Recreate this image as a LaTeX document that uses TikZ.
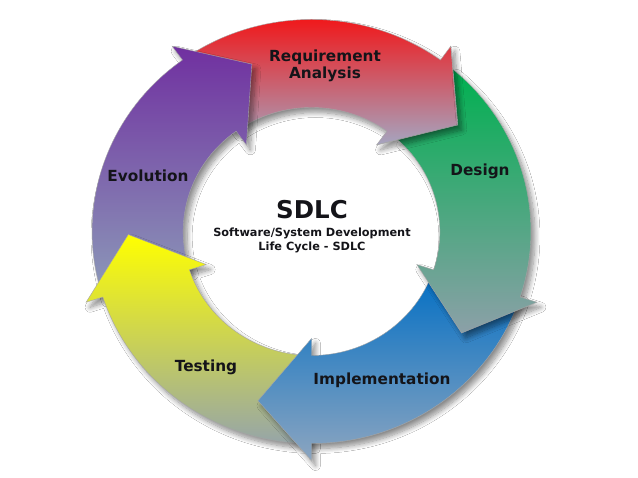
\documentclass[tikz,border=0pt]{standalone}
\usepackage{fontspec}
\setmainfont{DejaVu Sans}
\usetikzlibrary{shadows.blur}
\definecolor{redA}{RGB}{248,10,10}
\definecolor{redB}{RGB}{165,165,192}
\definecolor{greenA}{RGB}{0,176,80}
\definecolor{greenB}{RGB}{140,160,168}
\definecolor{blueA}{RGB}{0,110,196}
\definecolor{blueB}{RGB}{140,165,192}
\definecolor{yellowA}{RGB}{255,255,0}
\definecolor{yellowB}{RGB}{150,165,168}
\definecolor{purpleA}{RGB}{112,48,160}
\definecolor{purpleB}{RGB}{140,155,185}
\definecolor{txt}{RGB}{20,20,25}
\newcommand\drawseg[3]{%
  \path[arrowseg, top color=#2, bottom color=#3]
    ({#1+72}:212) arc[start angle={#1+72}, end angle=#1, radius=212]
    -- (#1:229) -- ({#1-17}:177) -- (#1:107) -- (#1:124)
    arc[start angle=#1, end angle={#1+72}, radius=124] -- cycle;}
\begin{document}
\begin{tikzpicture}[x=1pt,y=1pt,
  lbl/.style={font=\bfseries\fontsize{15.3}{17}\selectfont, text=txt, align=center, inner sep=0pt},
  shad/.style={blur shadow={shadow xshift=4pt, shadow yshift=-5pt, shadow blur radius=5pt,
      shadow blur steps=10, shadow opacity=45}},
  arrowseg/.style={shad, draw=black!35, line width=0.4pt}]
\useasboundingbox (0,0) rectangle (638,478);
\fill[white] (0,0) rectangle (638,478);
\begin{scope}[shift={(311.5,246.5)}, xscale=1.035]
  \drawseg{54}{redA}{redB}
  \drawseg{126}{purpleA}{purpleB}
  \drawseg{198}{yellowA}{yellowB}
  \drawseg{270}{blueA}{blueB}
  % green: tail notched to fit round the red arrow head
  \path[arrowseg, top color=greenA, bottom color=greenB]
    (49.87:212) arc[start angle=49.87, end angle=-18, radius=212]
    -- (-18:229) -- (-35:177) -- (-18:107) -- (-18:124)
    arc[start angle=-18, end angle=47.74, radius=124] -- (37:177) -- cycle;
  % shadow of the red head falling on the green tail
  \begin{scope}
    \clip (49.87:212) arc[start angle=49.87, end angle=-18, radius=212]
      -- (-18:124) arc[start angle=-18, end angle=47.74, radius=124] -- (37:177) -- cycle;
    \path[shad] (126:212) arc[start angle=126, end angle=54, radius=212]
      -- (54:229) -- (37:177) -- (54:107) -- (54:124)
      arc[start angle=54, end angle=126, radius=124] -- cycle;
  \end{scope}
  \draw[black!35, line width=0.4pt] (54:229) -- (37:177) -- (54:107);
\end{scope}
\node[lbl] (req) at (325,412) {Requirement\\Analysis};
\node[lbl] (des) at (480,307) {Design};
\node[lbl] (evo) at (148,302) {Evolution};
\node[lbl] (tes) at (206,111) {Testing};
\node[lbl] (imp) at (382,98) {Implementation};
\node[font=\bfseries\fontsize{24.5}{26}\selectfont, text=txt, inner sep=0pt] (sdlc) at (312,268) {SDLC};
\node[font=\bfseries\fontsize{11.3}{14}\selectfont, text=txt, align=center, inner sep=0pt] (sub) at (312,238) {Software/System Development\\Life Cycle - SDLC};
\end{tikzpicture}
\end{document}
